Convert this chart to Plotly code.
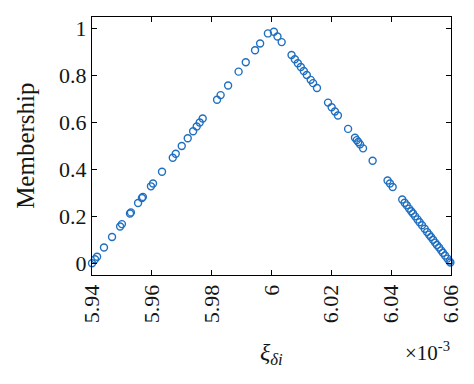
import plotly.graph_objects as go

# x values in units of 1e-3
xi = [5.9400, 5.9410, 5.9417, 5.9440, 5.9467, 5.9494, 5.9500, 5.9527, 5.9530,
      5.9554, 5.9567, 5.9570, 5.9597, 5.9604, 5.9634, 5.9670, 5.9680, 5.9700,
      5.9720, 5.9738, 5.9750, 5.9760, 5.9770, 5.9818, 5.9830, 5.9855, 5.9890,
      5.9914, 5.9945, 5.9962, 5.9988, 6.0008, 6.0020, 6.0034,
      6.0067, 6.0078, 6.0088, 6.0098, 6.0108, 6.0118, 6.0131, 6.0139, 6.0152,
      6.0189, 6.0201, 6.0212, 6.0222, 6.0256, 6.0279, 6.0285, 6.0290, 6.0296,
      6.0306, 6.0338, 6.0388, 6.0396, 6.0405,
      6.0437, 6.0445, 6.0452, 6.0460, 6.0467, 6.0473, 6.0480, 6.0488, 6.0495,
      6.0503, 6.0512, 6.0520, 6.0527, 6.0533, 6.0540, 6.0547, 6.0553, 6.0560,
      6.0567, 6.0573, 6.0580, 6.0588, 6.0595, 6.0598]
membership = [0.000, 0.017, 0.028, 0.067, 0.112, 0.157, 0.167, 0.212, 0.217,
              0.257, 0.278, 0.283, 0.328, 0.340, 0.390, 0.450, 0.467, 0.500,
              0.533, 0.563, 0.583, 0.600, 0.617, 0.697, 0.717, 0.758, 0.817,
              0.857, 0.908, 0.937, 0.980, 0.987, 0.967, 0.943,
              0.888, 0.870, 0.853, 0.837, 0.820, 0.803, 0.782, 0.768, 0.747,
              0.685, 0.665, 0.647, 0.630, 0.573, 0.535, 0.525, 0.517, 0.507,
              0.490, 0.437, 0.353, 0.340, 0.325,
              0.272, 0.258, 0.247, 0.233, 0.222, 0.212, 0.200, 0.187, 0.175,
              0.162, 0.147, 0.133, 0.122, 0.112, 0.100, 0.088, 0.078, 0.067,
              0.055, 0.045, 0.033, 0.020, 0.008, 0.003]

x_ticks = [5.94, 5.96, 5.98, 6.00, 6.02, 6.04, 6.06]
x_tick_labels = ["5.94", "5.96", "5.98", "6", "6.02", "6.04", "6.06"]
y_ticks = [0, 0.2, 0.4, 0.6, 0.8, 1]
y_tick_labels = ["0", "0.2", "0.4", "0.6", "0.8", "1"]

FONT = "Liberation Serif"
BLUE = "#1f6fc0"
TXT = "#151515"

fig = go.Figure()
fig.add_trace(go.Scatter(
    x=xi, y=membership, mode="markers", cliponaxis=False,
    marker=dict(symbol="circle-open", size=7, color=BLUE,
                line=dict(width=1.4, color=BLUE)),
    showlegend=False,
))

axis_common = dict(
    showline=True, linecolor="black", linewidth=1, mirror="ticks",
    ticks="inside", ticklen=5, tickwidth=1, tickcolor="black",
    showgrid=False, zeroline=False,
    tickfont=dict(family=FONT, size=22, color=TXT),
)

fig.update_xaxes(range=[5.94, 6.06], tickvals=x_ticks, ticktext=x_tick_labels,
                 tickangle=-90, **axis_common)
fig.update_yaxes(range=[-0.05, 1.05], tickvals=y_ticks, ticktext=y_tick_labels,
                 **axis_common)

# the page body adds an 8px offset, so the figure is sized to fit the window
fig.update_layout(
    width=466, height=376,
    margin=dict(l=84, r=23, t=9, b=109),
    plot_bgcolor="white", paper_bgcolor="white",
    font=dict(family=FONT, color=TXT, size=22),
    annotations=[
        dict(text="Membership", textangle=-90, x=-0.187, y=0.5,
             xref="paper", yref="paper", xanchor="center", yanchor="middle",
             showarrow=False, font=dict(family=FONT, size=25, color=TXT)),
        dict(text="<i>ξ</i><sub><i>δi</i></sub>", x=6.0, y=-0.305,
             xref="x", yref="paper", xanchor="center", yanchor="middle",
             showarrow=False, font=dict(family=FONT, size=24, color=TXT)),
        dict(text="×10<sup>-3</sup>", x=1.003, y=-0.295,
             xref="paper", yref="paper", xanchor="right", yanchor="middle",
             showarrow=False, font=dict(family=FONT, size=21, color=TXT)),
    ],
)

fig.write_html("out.html")
